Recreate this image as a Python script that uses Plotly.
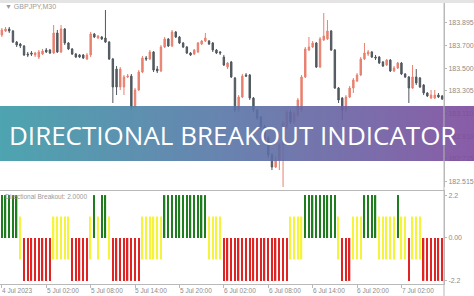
import base64
import plotly.graph_objects as go

# ---------------- data ----------------
bar_index = list(range(120))

opens = [183.788, 183.823, 183.840, 183.823, 183.727, 183.710, 183.693, 183.623, 183.632, 183.615,
         183.597, 183.623, 183.658, 183.658, 183.632, 183.806, 183.641, 183.840, 183.719, 183.667,
         183.623, 183.615, 183.615, 183.580, 183.615, 183.797, 183.762, 183.771, 183.762, 183.727,
         183.580, 183.493, 183.337, 183.337, 183.424, 183.432, 183.163, 183.311, 183.467, 183.589,
         183.580, 183.641, 183.493, 183.476, 183.684, 183.754, 183.693, 183.814, 183.771, 183.719,
         183.684, 183.632, 183.623, 183.641, 183.710, 183.736, 183.736, 183.719, 183.658, 183.641,
         183.597, 183.510, 183.554, 183.415, 183.137, 183.250, 183.441, 183.441, 183.241, 183.137,
         183.076, 182.990, 182.894, 182.747, 182.642, 182.703, 182.833, 182.990, 183.120, 183.033,
         183.094, 183.137, 183.424, 183.658, 183.684, 183.719, 183.510, 183.745, 183.754, 183.823,
         183.658, 183.328, 183.241, 183.137, 183.250, 183.328, 183.389, 183.441, 183.580, 183.623,
         183.641, 183.597, 183.597, 183.554, 183.528, 183.571, 183.476, 183.502, 183.545, 183.450,
         183.424, 183.328, 183.424, 183.415, 183.354, 183.285, 183.241, 183.241, 183.267, 183.259]

highs = [183.849, 183.858, 183.858, 183.832, 183.736, 183.719, 183.701, 183.641, 183.649, 183.641,
         183.658, 183.667, 183.675, 183.667, 183.875, 183.832, 183.875, 183.849, 183.727, 183.675,
         183.632, 183.623, 183.623, 183.632, 183.814, 183.806, 183.788, 183.780, 184.005, 183.736,
         183.589, 183.519, 183.510, 183.441, 183.450, 183.450, 183.328, 183.484, 183.606, 183.606,
         183.658, 183.649, 183.519, 183.701, 183.771, 183.762, 183.832, 183.823, 183.780, 183.727,
         183.693, 183.641, 183.667, 183.727, 183.745, 183.806, 183.745, 183.727, 183.667, 183.649,
         183.615, 183.554, 183.563, 183.424, 183.267, 183.450, 183.458, 183.450, 183.250, 183.146,
         183.085, 183.007, 182.912, 182.764, 182.738, 182.851, 183.042, 183.137, 183.137, 183.129,
         183.241, 183.441, 183.684, 183.771, 183.736, 183.727, 183.771, 183.979, 183.918, 183.832,
         183.667, 183.337, 183.250, 183.267, 183.346, 183.415, 183.458, 183.597, 183.719, 183.658,
         183.649, 183.615, 183.606, 183.563, 183.580, 183.580, 183.519, 183.554, 183.554, 183.458,
         183.432, 183.528, 183.493, 183.424, 183.363, 183.293, 183.311, 183.311, 183.285, 183.267]

lows = [183.771, 183.814, 183.806, 183.719, 183.684, 183.675, 183.606, 183.597, 183.606, 183.597,
        183.580, 183.615, 183.632, 183.623, 183.623, 183.632, 183.632, 183.701, 183.658, 183.615,
        183.589, 183.589, 183.580, 183.571, 183.597, 183.762, 183.754, 183.745, 183.719, 183.571,
        183.198, 183.267, 183.311, 183.267, 183.415, 183.137, 183.155, 183.302, 183.458, 183.563,
        183.571, 183.467, 183.458, 183.467, 183.675, 183.684, 183.684, 183.762, 183.710, 183.675,
        183.623, 183.606, 183.615, 183.632, 183.701, 183.727, 183.701, 183.641, 183.623, 183.615,
        183.519, 183.493, 183.415, 183.120, 183.120, 183.241, 183.424, 183.224, 183.120, 183.050,
        182.964, 182.859, 182.721, 182.616, 182.634, 182.616, 182.469, 182.972, 183.016, 183.016,
        183.076, 183.120, 183.415, 183.649, 183.675, 183.502, 183.502, 183.736, 183.745, 183.649,
        183.320, 183.198, 183.050, 183.120, 183.241, 183.285, 183.380, 183.432, 183.571, 183.606,
        183.589, 183.571, 183.536, 183.510, 183.519, 183.467, 183.467, 183.493, 183.441, 183.415,
        183.198, 183.320, 183.354, 183.328, 183.267, 183.250, 183.233, 183.233, 183.241, 183.224]

closes = [183.832, 183.840, 183.823, 183.727, 183.701, 183.693, 183.615, 183.615, 183.623, 183.632,
          183.641, 183.649, 183.641, 183.632, 183.806, 183.641, 183.840, 183.719, 183.667, 183.623,
          183.597, 183.597, 183.589, 183.615, 183.797, 183.771, 183.780, 183.754, 183.727, 183.580,
          183.337, 183.337, 183.493, 183.424, 183.432, 183.163, 183.311, 183.467, 183.589, 183.580,
          183.641, 183.484, 183.476, 183.684, 183.754, 183.693, 183.814, 183.771, 183.719, 183.684,
          183.632, 183.615, 183.658, 183.719, 183.736, 183.762, 183.710, 183.658, 183.632, 183.632,
          183.528, 183.545, 183.424, 183.137, 183.250, 183.432, 183.432, 183.241, 183.137, 183.068,
          182.990, 182.877, 182.747, 182.642, 182.703, 182.833, 183.024, 183.120, 183.033, 183.111,
          183.224, 183.424, 183.667, 183.684, 183.719, 183.510, 183.754, 183.780, 183.823, 183.658,
          183.328, 183.224, 183.137, 183.250, 183.328, 183.398, 183.441, 183.580, 183.632, 183.641,
          183.597, 183.589, 183.545, 183.519, 183.571, 183.476, 183.502, 183.545, 183.450, 183.424,
          183.328, 183.424, 183.372, 183.337, 183.285, 183.259, 183.267, 183.267, 183.250, 183.233]

# indicator state per bar: 1 = up breakout, 0 = neutral, -1 = down breakout
signal = [1, 1, 1, 1, 1, 0, -1, -1, -1, -1, -1, -1, -1, -1, 0, 0, 0, 0, 0, -1,
          -1, -1, -1, -1, 0, 1, 0, 1, 1, 0, -1, -1, -1, -1, -1, -1, -1, -1, 0, 0,
          0, 0, 0, 0, 1, 1, 1, 1, 1, 1, 1, 1, 1, 1, 1, 1, 0, 0, 0, 0,
          -1, -1, -1, -1, -1, -1, -1, -1, -1, -1, -1, -1, -1, -1, -1, -1, -1, -1, 0, 0,
          0, 0, 1, 1, 1, 1, 1, 1, 1, 1, 1, 0, -1, -1, -1, 0, 0, 0, 1, 1,
          1, 1, 0, 0, 0, 0, 0, 1, 0, 0, -1, 0, 0, 0, -1, -1, -1, -1, -1, -1]
up_level = 2.2
neutral_half = 1.1
down_level = -2.2

price_ticks = [183.895, 183.700, 183.500, 183.305, 183.110, 182.910, 182.715, 182.515]
price_tick_text = ["183.895", "183.700", "183.500", "183.305", "183.110", "182.910", "182.715", "182.515"]
ind_ticks = [2.2, 0.0, -2.2]
ind_tick_text = ["2.2", "0.00", "-2.2"]
time_ticks = [0, 12, 24, 36, 48, 60, 72, 84, 96, 108]
time_labels = ["4 Jul 2023", "5 Jul 02:00", "5 Jul 08:00", "5 Jul 14:00", "5 Jul 20:00",
               "6 Jul 02:00", "6 Jul 08:00", "6 Jul 14:00", "6 Jul 20:00", "7 Jul 02:00"]

# ---------------- figure ----------------
W, H = 474, 296
plot_right = 444 / W
AX = "#b9b9b9"
TXT = "#8c8c8c"

fig = go.Figure()

fig.add_trace(go.Candlestick(
    x=bar_index, open=opens, high=highs, low=lows, close=closes,
    increasing=dict(line=dict(color="#e9806f", width=1), fillcolor="#e9806f"),
    decreasing=dict(line=dict(color="#51585e", width=1), fillcolor="#51585e"),
    whiskerwidth=0, xaxis="x", yaxis="y", showlegend=False, hoverinfo="skip"))

g_x = [i for i, s in zip(bar_index, signal) if s == 1]
y_x = [i for i, s in zip(bar_index, signal) if s == 0]
r_x = [i for i, s in zip(bar_index, signal) if s == -1]

fig.add_trace(go.Bar(x=g_x, y=[up_level] * len(g_x), base=0, width=0.36,
                     marker=dict(color="#1f7d1f", line=dict(width=0)),
                     xaxis="x2", yaxis="y2", showlegend=False, hoverinfo="skip"))
fig.add_trace(go.Bar(x=y_x, y=[2 * neutral_half] * len(y_x), base=-neutral_half, width=0.36,
                     marker=dict(color="#f6f43a", line=dict(width=0)),
                     xaxis="x2", yaxis="y2", showlegend=False, hoverinfo="skip"))
fig.add_trace(go.Bar(x=r_x, y=[down_level] * len(r_x), base=0, width=0.36,
                     marker=dict(color="#e02424", line=dict(width=0)),
                     xaxis="x2", yaxis="y2", showlegend=False, hoverinfo="skip"))

top_dom = [(H - 187) / H, (H - 3) / H]
bot_dom = [(H - 284) / H, (H - 191) / H]
xr = [-0.5, 119.5]

fig.update_layout(
    width=W, height=H, autosize=False,
    margin=dict(l=0, r=0, t=0, b=0),
    paper_bgcolor="white", plot_bgcolor="white",
    barmode="overlay", boxgap=0.45,
    font=dict(family="Liberation Sans, Arial, sans-serif", color=TXT, size=7),
    xaxis=dict(domain=[0, plot_right], range=xr, visible=False, anchor="y",
               rangeslider=dict(visible=False), fixedrange=True),
    yaxis=dict(domain=top_dom, range=[182.469, 184.066], side="right", anchor="x",
               showline=True, linecolor=AX, linewidth=1, showgrid=False, zeroline=False,
               tickvals=price_ticks, ticktext=price_tick_text, ticks="outside", ticklen=2,
               tickcolor=AX, tickfont=dict(size=7, color=TXT)),
    xaxis2=dict(domain=[0, plot_right], range=xr, anchor="y2", showline=True, mirror=True,
                linecolor=AX, linewidth=1, showgrid=False, zeroline=False,
                tickvals=time_ticks, ticks="outside", ticklen=3, tickcolor=AX,
                showticklabels=False),
    yaxis2=dict(domain=bot_dom, range=[-2.36, 2.41], side="right", anchor="x2",
                showline=True, linecolor=AX, linewidth=1, showgrid=False, zeroline=False,
                tickvals=ind_ticks, ticktext=ind_tick_text, ticks="outside", ticklen=2,
                tickcolor=AX, tickfont=dict(size=7, color=TXT)),
)

# right-hand separator line spanning full height
fig.add_shape(type="line", xref="paper", yref="paper", x0=plot_right, x1=plot_right,
              y0=0, y1=1, line=dict(color=AX, width=1), layer="above")
# top frame strip
fig.add_shape(type="rect", xref="paper", yref="paper", x0=0, x1=1, y0=(H - 3) / H, y1=1,
              fillcolor="#e4e4e4", line=dict(width=0), layer="above")

ann = []
ann.append(dict(text="▼ GBPJPY,M30", xref="paper", yref="paper", x=3 / W, y=(H - 6) / H,
                xanchor="left", yanchor="middle", showarrow=False,
                font=dict(size=7, color="#9a9a9a")))
ann.append(dict(text="Directional Breakout: 2.0000", xref="paper", yref="paper", x=3 / W,
                y=(H - 196) / H, xanchor="left", yanchor="middle", showarrow=False,
                font=dict(size=6.5, color="#9a9a9a")))
for t, lab in zip(time_ticks, time_labels):
    ann.append(dict(text=lab, xref="x2", yref="paper", x=t - 0.45, y=(H - 290) / H,
                    xanchor="left", yanchor="middle", showarrow=False,
                    font=dict(size=6.5, color=TXT)))

# banner
svg = ('<svg xmlns="http://www.w3.org/2000/svg" width="474" height="55" preserveAspectRatio="none">'
       '<defs><linearGradient id="g" x1="0" y1="0" x2="1" y2="0">'
       '<stop offset="0" stop-color="#3b9ba8"/><stop offset="0.5" stop-color="#5a74a7"/>'
       '<stop offset="1" stop-color="#7d4b9e"/></linearGradient></defs>'
       '<rect width="474" height="55" fill="url(#g)"/></svg>')
src = "data:image/svg+xml;base64," + base64.b64encode(svg.encode()).decode()
b_top, b_bot = 106, 161
fig.add_layout_image(dict(source=src, xref="paper", yref="paper", x=0, y=(H - b_top) / H,
                          sizex=1, sizey=(b_bot - b_top) / H, sizing="stretch",
                          xanchor="left", yanchor="top", opacity=0.9, layer="above"))
ann.append(dict(text="DIRECTIONAL BREAKOUT INDICATOR", xref="paper", yref="paper",
                x=232.5 / W, y=(H - 135) / H, xanchor="center", yanchor="middle",
                showarrow=False, font=dict(family="Open Sans", size=26, color="white")))
fig.update_layout(annotations=ann)

fig.write_html("out.html")
